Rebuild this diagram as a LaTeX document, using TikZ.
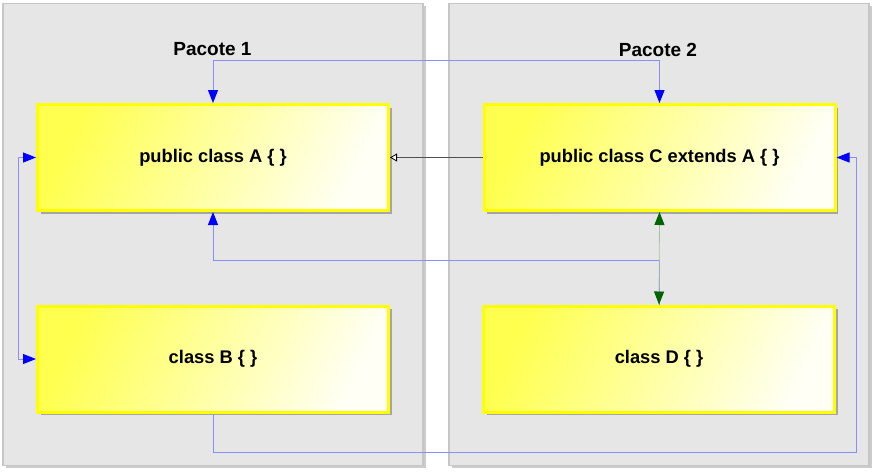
\documentclass[tikz,border=0pt]{standalone}
\usepackage{fontspec}
\setmainfont{Liberation Sans}
\usetikzlibrary{arrows.meta,shadows}
\definecolor{pkgfill}{RGB}{230,230,230}
\definecolor{pkgdraw}{RGB}{198,198,198}
\definecolor{boxyel}{RGB}{255,255,0}
\definecolor{shadeA}{RGB}{255,255,80}
\definecolor{shadeB}{RGB}{255,255,245}
\definecolor{bline}{RGB}{140,140,255}
\definecolor{btip}{RGB}{0,0,255}
\definecolor{gline}{RGB}{170,195,170}
\definecolor{gtip}{RGB}{0,100,0}
\definecolor{hline}{RGB}{80,80,80}
\begin{document}
\begin{tikzpicture}[x=1pt,y=-1pt,
  package/.style={draw=pkgdraw,line width=1.5pt,fill=pkgfill,rectangle,inner sep=0pt,
    minimum width=420pt,minimum height=462pt,
    drop shadow={shadow xshift=2.5pt,shadow yshift=-2.5pt,fill=black!20,opacity=1}},
  pkglabel/.style={font=\fontsize{19}{22}\selectfont\bfseries,inner sep=0pt},
  classbox/.style={draw=boxyel,line width=3pt,rectangle,inner sep=0pt,
    minimum width=351pt,minimum height=106pt,
    left color=shadeA,right color=shadeB,shading angle=65,
    font=\fontsize{18.3}{21}\selectfont\bfseries,
    drop shadow={shadow xshift=3pt,shadow yshift=-3pt,fill=black!35,opacity=1}},
  bluelink/.style={draw=bline,line width=1pt},
  bt/.tip={Triangle[length=13pt,width=10pt,color=btip]},
  gt/.tip={Triangle[length=13pt,width=10pt,color=gtip]},
  ot/.tip={Triangle[open,length=7pt,width=8pt,fill=white,color=black]},
]
\useasboundingbox (0,0) rectangle (874,472);
\fill[white] (0,0) rectangle (874,472);
\node[package] (pkg1) at (213,234.5) {};
\node[package] (pkg2) at (659,234.5) {};
\node[pkglabel] (lab1) at (212.5,49.5) {Pacote 1};
\node[pkglabel] (lab2) at (658,49.5) {Pacote 2};

\node[classbox] (A) at (213,157.5) {public class A \{ \}};
\node[classbox] (B) at (213,359) {class B \{ \}};
\node[classbox] (C) at (659.5,157.5) {public class C extends A \{ \}};
\node[classbox] (D) at (659,359) {class D \{ \}};

\coordinate (top) at (0,60.5);
\coordinate (mid) at (0,260.5);
\coordinate (bot) at (0,452.5);
\coordinate (lx) at (18.5,0);
\coordinate (rx) at (856.5,0);

% A <-> C over the top
\draw[bluelink,bt-bt] (A.north) -- (A.north |- top) -- (C.north |- top) -- (C.north);
% A <-> B on the left
\draw[bluelink,bt-bt] (A.west) -- (A.west -| lx) -- (B.west -| lx) -- (B.west);
% D -> A
\draw[bluelink,bt-] (A.south) -- (A.south |- mid) -- (D.north |- mid) -- (D.north);
% B -> C around the bottom and right
\draw[bluelink,-bt] (B.south) -- (B.south |- bot) -- (rx |- bot) -- (rx |- C.east) -- (C.east);
% C extends A
\draw[hline,line width=0.8pt,-ot] (C.west) -- (A.east);
% C <-> D
\draw[gline,line width=0.8pt,gt-gt] (C.south) -- (D.north);
\end{tikzpicture}
\end{document}
